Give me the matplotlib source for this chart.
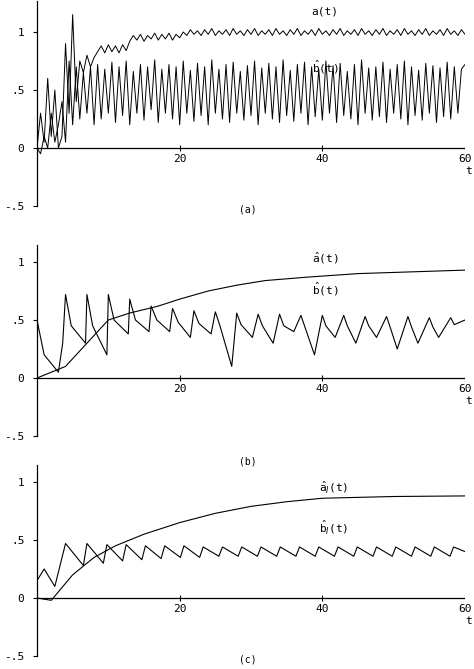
import matplotlib
matplotlib.use("Agg")
import matplotlib.pyplot as plt

# ---------------- data ----------------
# panel (a): samples every 0.5 time units
ta = [i * 0.5 for i in range(121)]
a_a = [0.0, 0.3, 0.05, 0.6, 0.1, 0.5, 0.0,
       0.1, 0.9, 0.3, 1.15,
       0.4, 0.75, 0.65, 0.8, 0.7, 0.78,
       0.83, 0.88, 0.82, 0.89, 0.83, 0.88, 0.82, 0.89, 0.84,
       0.92, 0.97, 0.93, 0.98, 0.92, 0.97, 0.94, 0.99, 0.93, 0.98, 0.94, 0.99, 0.93, 0.98, 0.95,
       1.0, 0.97, 1.02, 0.98, 1.01, 0.97, 1.02, 0.98, 1.03, 0.97,
       1.01, 0.98, 1.02, 0.97, 1.03, 0.98, 1.01, 0.97, 1.02, 0.98,
       1.03, 0.97, 1.01, 0.98, 1.02, 0.97, 1.03, 0.98, 1.01, 0.97,
       1.02, 0.98, 1.03, 0.97, 1.01, 0.98, 1.02, 0.97, 1.03, 0.98,
       1.01, 0.97, 1.02, 0.98, 1.03, 0.97, 1.01, 0.98, 1.02, 0.97,
       1.03, 0.98, 1.01, 0.97, 1.02, 0.98, 1.03, 0.97, 1.01, 0.98,
       1.02, 0.97, 1.03, 0.98, 1.01, 0.97, 1.02, 0.98, 1.03, 0.97,
       1.01, 0.98, 1.02, 0.97, 1.03, 0.98, 1.01, 0.97, 1.02, 0.98]
b_a = [0.0, -0.05, 0.1, 0.0, 0.3, 0.05, 0.2,
       0.4, 0.05, 0.75, 0.2, 0.7, 0.25, 0.65, 0.3, 0.7, 0.2,
       0.72, 0.25, 0.68, 0.3, 0.74, 0.22, 0.7, 0.28, 0.75, 0.2,
       0.66, 0.3, 0.72, 0.24, 0.7, 0.33, 0.76, 0.22, 0.68, 0.3,
       0.72, 0.25, 0.7, 0.2, 0.75, 0.3, 0.67, 0.23, 0.73, 0.28,
       0.7, 0.2, 0.76, 0.3, 0.68, 0.25, 0.72, 0.22, 0.74, 0.3,
       0.66, 0.24, 0.71, 0.28, 0.75, 0.2, 0.69, 0.3, 0.73, 0.25,
       0.7, 0.22, 0.76, 0.28, 0.67, 0.23, 0.72, 0.3, 0.74, 0.2,
       0.7, 0.27, 0.68, 0.24, 0.75, 0.3, 0.71, 0.22, 0.73, 0.28,
       0.66, 0.25, 0.72, 0.2, 0.76, 0.3, 0.69, 0.24, 0.7, 0.27,
       0.74, 0.22, 0.68, 0.3, 0.72, 0.25, 0.75, 0.2, 0.7, 0.28,
       0.67, 0.24, 0.73, 0.3, 0.71, 0.22, 0.69, 0.27, 0.74, 0.25,
       0.7, 0.3, 0.68, 0.72]

# panel (b)
tb_a = [0, 2, 4, 7, 10, 13, 17, 20, 24, 28, 32, 38, 45, 55, 60]
ab = [0.0, 0.05, 0.1, 0.3, 0.5, 0.56, 0.62, 0.68, 0.75, 0.8, 0.84, 0.87, 0.9, 0.92, 0.93]
tb_b = [0, 1, 3, 3.6, 4, 4.8, 6.8, 7, 7.8, 9.8, 10, 10.8, 12.8, 13, 13.8, 15.7, 16, 16.8, 18.6, 19,
        19.8, 21.5, 22, 22.7, 24.4, 25, 25.6, 27.3, 28, 28.6, 30.2, 31, 31.6, 33.1, 34,
        34.6, 36, 37, 37.5, 38.9, 40, 40.5, 41.8, 43, 43.5, 44.7, 46, 46.5, 47.6, 49,
        49.5, 50.5, 52, 52.5, 53.4, 55, 55.5, 56.3, 58, 58.5, 60]
bb = [0.5, 0.2, 0.05, 0.3, 0.72, 0.45, 0.3, 0.72, 0.45, 0.2, 0.72, 0.5, 0.38, 0.68, 0.5, 0.4,
      0.62, 0.5, 0.4, 0.6, 0.48, 0.35, 0.58, 0.47, 0.38, 0.57, 0.46, 0.1, 0.56,
      0.46, 0.35, 0.55, 0.45, 0.3, 0.55, 0.45, 0.4, 0.54, 0.45, 0.2, 0.54, 0.45,
      0.35, 0.54, 0.45, 0.3, 0.53, 0.45, 0.35, 0.53, 0.44, 0.25, 0.53, 0.44, 0.3,
      0.52, 0.44, 0.35, 0.52, 0.46, 0.5]

# panel (c)
tc_a = [0, 2, 5, 8, 11, 15, 20, 25, 30, 35, 40, 50, 60]
ac = [0.0, -0.02, 0.2, 0.35, 0.45, 0.55, 0.65, 0.73, 0.79, 0.83, 0.86, 0.875, 0.88]
tc_b = [0, 1, 2.5, 4, 6.5, 7, 9.3, 9.8, 12, 12.5, 14.7, 15.2, 17.4, 17.9, 20.1, 20.6,
        22.8, 23.3, 25.5, 26, 28.2, 28.7, 30.9, 31.4, 33.6, 34.1, 36.3, 36.8, 39,
        39.5, 41.7, 42.2, 44.4, 44.9, 47.1, 47.6, 49.8, 50.3, 52.5, 53, 55.2, 55.7,
        57.9, 58.4, 60]
bc = [0.15, 0.25, 0.1, 0.47, 0.28, 0.47, 0.3, 0.46, 0.32, 0.46, 0.33, 0.45, 0.34,
      0.45, 0.35, 0.45, 0.35, 0.44, 0.36, 0.44, 0.36, 0.44, 0.36, 0.44, 0.36, 0.44,
      0.36, 0.44, 0.36, 0.44, 0.36, 0.44, 0.36, 0.44, 0.36, 0.44, 0.36, 0.44, 0.36,
      0.44, 0.36, 0.44, 0.36, 0.44, 0.4]

xticks = [20, 40, 60]
yticks = [1, 0.5, 0, -0.5]
ylabels = ["1", ".5", "0", "-.5"]

# ---------------- plotting ----------------
plt.rcParams['font.family'] = ['DejaVu Sans Mono']
plt.rcParams['mathtext.fontset'] = 'dejavusans'
fig = plt.figure(figsize=(4.74, 6.69), dpi=100)
H = 669.0
left = 37 / 474
width = 428 / 474
ppu = 116.0  # pixels per unit


def make_ax(bottom_px, top_val):
    h = (top_val + 0.5) * ppu
    ax = fig.add_axes([left, 1 - bottom_px / H, width, h / H])
    ax.set_xlim(0, 60)
    ax.set_ylim(-0.5, top_val)
    for s in ['top', 'right', 'bottom']:
        ax.spines[s].set_visible(False)
    ax.spines['left'].set_linewidth(0.9)
    ax.axhline(0, color='black', lw=0.9)
    ax.set_xticks([])
    ax.set_yticks(yticks)
    ax.set_yticklabels(ylabels, fontsize=8)
    ax.tick_params(axis='y', direction='out', length=3, width=0.8, pad=6)
    ax.vlines(xticks, -0.025, 0.025, color='black', lw=0.8)
    for x in xticks:
        ax.text(x, -0.05, str(x), ha='center', va='top', fontsize=8)
    ax.text(60.5, -0.2, "t", ha='center', va='center', fontsize=8)
    return ax


axa = make_ax(206, 1.27)
axa.plot(ta, a_a, color='black', lw=0.7)
axa.plot(ta, b_a, color='black', lw=0.7)
axa.text(38.5, 1.15, "a(t)", fontsize=8, ha='left')
axa.text(38.5, 0.65, r"$\hat{\mathtt{b}}$(t)", fontsize=8, ha='left')
fig.text(248 / 474, 1 - 210 / H, "(a)", fontsize=7, ha='center', va='center')

axb = make_ax(436, 1.15)
axb.plot(tb_a, ab, color='black', lw=0.8)
axb.plot(tb_b, bb, color='black', lw=0.8)
axb.text(38.5, 1.0, r"$\hat{\mathtt{a}}$(t)", fontsize=8)
axb.text(38.5, 0.72, r"$\hat{\mathtt{b}}$(t)", fontsize=8)
fig.text(248 / 474, 1 - 462 / H, "(b)", fontsize=7, ha='center', va='center')

axc = make_ax(656, 1.15)
axc.plot(tc_a, ac, color='black', lw=0.8)
axc.plot(tc_b, bc, color='black', lw=0.8)
axc.text(39.5, 0.92, r"$\hat{\mathtt{a}}_I$(t)", fontsize=8)
axc.text(39.5, 0.57, r"$\hat{\mathtt{b}}_I$(t)", fontsize=8)
fig.text(248 / 474, 1 - 660 / H, "(c)", fontsize=7, ha='center', va='center')

fig.savefig("out.png", dpi=100)
